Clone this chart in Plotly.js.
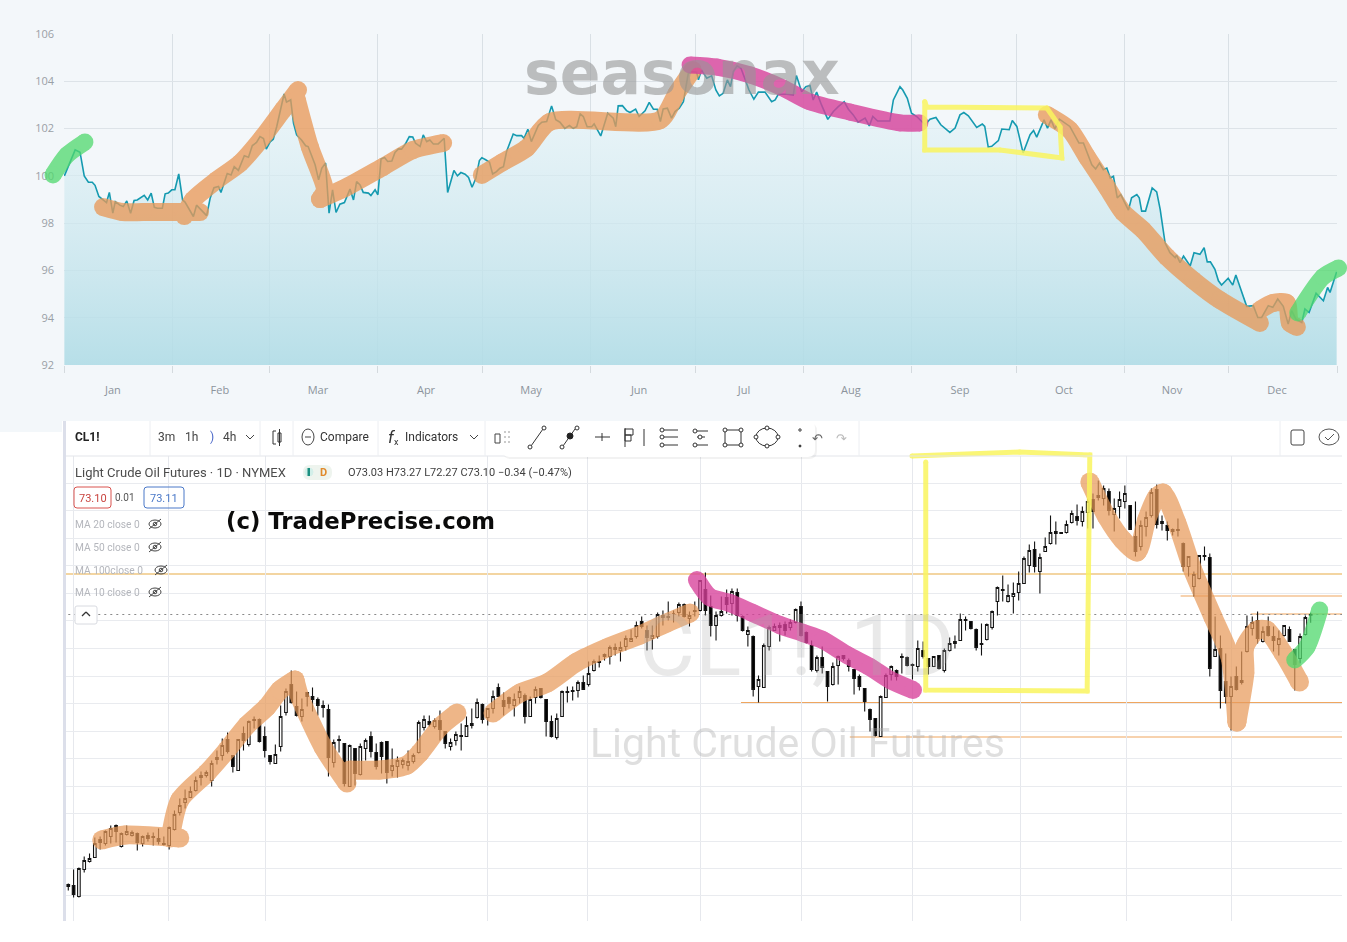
<!DOCTYPE html>
<html><head><meta charset="utf-8">
<script src="https://cdn.plot.ly/plotly-3.0.1.min.js"></script>
<style>html,body{margin:0;padding:0;background:#fff}#c{width:1347px;height:942px}</style></head>
<body><div id="c"></div>
<script>
// ---------- Seasonal chart (top) ----------
const monthNames=['Jan','Feb','Mar','Apr','May','Jun','Jul','Aug','Sep','Oct','Nov','Dec'];
const monthMid=[14,44.7,72.8,103.8,133.9,164.9,195,225.6,256.9,286.7,317.7,347.8];
const monthStart=[0,31,59,90,120,151,181,212,243,273,304,334,365];
const seasonTicks=[92,94,96,98,100,102,104,106];
const seasonDay=[0.1,3.2,4.6,5.8,7,8.1,8.9,10,12.2,13,14,14.7,16,17,18,19.1,20.1,21,23,24,25,25.9,26.8,28.2,29,29.9,30.9,31.8,32.9,34,34.7,37.1,38,40.9,41.9,43,44.3,45,46.8,47.9,48.8,50,51.7,52.9,54,55.2,56.2,57.2,58,59.1,60,61,63.1,63.8,65,65.8,66.7,68.1,69.3,70,72,73,73.9,75,76,77,78,79.1,80.4,82,83,83.9,84.9,85.8,87.3,88,89.2,90,90.9,91.9,92.8,94,94.9,95.9,96.8,98,99,100,100.8,102.1,103,104,104.9,105.9,107.3,109,110,
111.8,112.8,113.8,115,116,117,118.1,119.1,119.8,120.9,122,122.9,124,125,126,126.9,128.8,129.8,131.2,131.9,133,134,136,137,138.4,139.8,141,142.2,143.6,144.9,146,147,148,148.9,150,151.3,152,153.9,155.9,157.5,158.2,158.9,160.1,161.3,162.3,163.9,164.9,166.6,167.8,169,170.1,171,171.8,173,174.2,175.2,176.4,177.6,179,180,181.4,181.9,182.8,184.3,185.7,186.9,187.9,189,190.2,191.1,191.9,193,194.1,195.3,196.4,197.8,199.1,201,202.9,203.9,204.8,207.2,209.1,210,211.5,212.7,213.9,214.8,215.8,217.2,219,220.6,222,223.7,224.9,226.3,227.7,229.7,230.9,231.9,233.3,236.8,237.8,
239.7,240.5,241.8,243,244.5,246.9,248.3,250,251.4,254,255.5,256.9,258,259.3,261.7,263.3,264,265,266,267.9,268.9,271,271.9,273.2,275,277,278,278.9,281,282,283,284.1,285.4,287,288.4,291,292.3,294.7,295.8,296.9,298,299,300,300.9,302,303,305.2,306.1,307.6,308.3,309,310.1,312,313.3,314.3,315.7,317.1,318.6,319,320,321,322.9,324,325.7,326.9,327.8,328.7,330,331,331.9,333.8,335.1,336,339.1,341,342.3,343.4,345.3,346.6,348,349.6,351,352,353.2,354.9,355.8,357,359,361.1,362.3,363,364.9];
const seasonValue=[100,101.1,101,100,99.73,99.73,99.6,99.13,98.87,99.3,98.42,98.91,98.76,98.7,98.94,98.42,98.96,98.98,99.18,98.98,99.27,98.67,98.63,98.63,99.24,99.27,99.41,99.41,100.08,98.98,98.89,98.28,98.76,98.32,99.05,99.5,99.55,99.3,100.1,100.04,100.39,100.23,100.85,100.79,101.28,101.41,101.66,101.58,101.13,101.44,101.55,102.09,103.46,103.12,103.22,102.23,101.73,101.52,101.27,101.24,100.47,99.83,100.32,100.54,98.42,99.41,98.45,98.8,98.87,99.44,98.98,99.76,99.62,99.3,99.27,99.17,99.41,99.2,100.71,100.78,100.61,100.63,100.99,101.14,101.13,101.38,101.66,101.64,101.38,101.24,101.73,101.45,101.52,101.35,101.35,101.59,99.3,
100.23,100,100.14,100.07,99.93,99.52,99.9,100.65,100.77,100.68,100.58,100.08,100.18,100.32,100.39,101.03,101.77,101.7,101.7,101.59,101.97,101.45,102.13,102.27,102.3,102.96,102.37,102.27,102.01,102.13,102.01,102.08,102.62,102.51,102.08,102.08,102.2,101.69,102.65,102.44,102.08,102.96,102.97,102.76,102.68,102.82,102.51,102.75,103.11,102.82,102.82,102.3,102.83,102.86,102.44,102.72,102.86,103.14,104.34,104.41,104.38,104.06,104.48,104.13,104.23,103.63,103.38,103.49,104.06,103.77,104.41,104.65,104.55,104.08,103.63,103.24,103.54,103.54,103.14,103.21,103.45,103.45,103.42,104.24,103.56,103.77,103.82,103.21,103.54,103,102.39,102.72,102.93,103.14,102.82,102.58,102.27,102.44,102.11,102.51,102.32,102.32,103.21,
103.77,103.63,103.28,102.65,102.51,102.16,102.4,102.47,102.16,101.84,102.02,102.58,102.68,102.54,102.05,102.19,102.09,101.22,101.25,101.49,101.98,101.95,102.34,102.09,100.97,101.74,101.92,101.64,102.37,102.02,102.37,101.98,102.4,102.23,102.09,101.39,101.39,100.47,100.29,100.54,100.26,100.33,99.91,99.98,99.07,99.21,98.55,99.07,99.21,99.07,98.51,98.51,99.49,99.32,98.58,97.17,96.75,96.54,96.65,96.33,96.61,96.19,96.75,96.68,96.96,96.36,96.36,96.05,95.56,95.38,95.67,95.38,95.81,94.48,94.51,94.01,94.01,94.51,94.44,94.79,94.48,93.73,94.3,93.94,93.8,94.37,94.22,95.04,94.72,95.28,95.07,95.94];

// hand-drawn highlights on the seasonal chart
const topGreenAX=[-3.15,0.86,6], topGreenAY=[100.04,100.88,101.43];
const topOrangeAX=[11.2,16.9,22.7,34.1,39], topOrangeAY=[98.68,98.47,98.47,98.47,98.47];
const topOrangeBX=[34.5,37,43.9,50.5,57,62.8,67.1], topOrangeBY=[98.3,98.98,99.83,100.54,101.64,102.79,103.63];
const topOrangeB2X=[66.8,70.5,74.8,73.4], topOrangeB2Y=[103.2,101.22,99.4,99.02];
const topOrangeCX=[73.4,80.6,91.5,100,108.7], topOrangeCY=[99.02,99.49,100.38,101.09,101.39];
const topOrangeDX=[119.8,125.9,132.7,139.3,170.9,175.7,180.3], topOrangeDY=[100.04,100.59,101.18,102.28,102.36,103.5,104.48];
const topPinkX=[179.5,187.2,196.7,206.1,213.9,225.3,239.7,245.4], topPinkY=[104.69,104.6,104.27,103.72,103.13,102.7,102.24,102.24];
const topYellowX=[246.8,247.4,281.8,285.6,286.1,268.4,246.8,246.8], topYellowY=[103.13,102.91,102.87,102.07,100.76,101.09,101.09,103.13];
const topOrangeEX=[281.8,288.4,293.3,299,303.6,309.4,316.2,323.7,331.4,342.9], topOrangeEY=[102.58,101.94,100.8,99.53,98.47,97.71,96.57,95.6,94.75,93.78];
const topOrangeFX=[342.9,346.6,350.6,351.5,353.5], topOrangeFY=[94.33,94.62,94.62,93.78,93.61];
const topGreenBX=[353.8,361,365.5], topGreenBY=[94.2,95.72,96.1];

// ---------- Daily futures candles (bottom) ----------
const candleOpen=[45.9,46,44.9,47.6,48.4,48.8,50.6,50.2,50.9,52,49.9,51.1,51,51.2,50.2,51,50.9,50.7,50.2,50,51.6,53.3,54.3,54.8,55.5,56.8,57,56.5,58.8,59,60.6,59,57.5,61.2,60.1,62.5,62.6,60.9,59,58.2,59.9,63.3,66.1,63.9,62.9,65.3,64.9,64.6,64,63.6,58.3,60.5,60.2,55.9,59.7,57.1,59.7,60.9,59.3,60.3,60.4,57.5,57.9,
58.1,58,58.4,59.3,61.8,62.4,61.9,62.5,61.4,59.9,60.5,60.9,60.9,62,62.8,64.1,62.8,63.7,65.8,64.5,64.8,64,64.8,65,62.9,64.8,65.7,64.6,62.4,60.8,62.9,65.3,65.4,65.5,66.3,66.1,67.5,68.3,69.1,68.9,69.8,69.5,69.9,70.4,70.9,72.4,71.5,70.7,70.9,72.8,72.8,73.2,73.3,74.1,72.7,73.4,73.5,75.6,73.9,72,73,74.8,74.2,75.3,72.9,71.1,70.9,65.9,65.8,69.9,71.5,72,72.1,71.8,72.3,73.9,71.3,70,67.5,68.8,67.4,66.1,68,69,68.5,67.6,66.9,65.7,63.6,62.7,60.9,64.8,67.1,67.5,68.9,68.8,68,67.9,69.5,68.7,67.9,69,67.5,69.5,70.4,70.5,72.5,72.4,71.6,70.1,70.6,71.8,74.4,
75.6,74.4,74.9,75.3,76.2,78,79.6,77.4,79.4,80.2,81.2,81.2,81.3,82.3,82.9,82.4,83.3,84.6,85,84.7,85.4,83.1,83.9,84.4,84,80.9,79.9,81.9,83,85.6,82.2,82,81.4,81.6,80.2,77.9,75.9,76.7,78.9,78.8,68.9,69.7,66.4,64.9,66.9,66.3,69.4,71.7,72.5,70.4,71.9,70.9,70.1,71,71.6,69.6,68.7,71.1,73.03];
const candleHigh=[46.2,47.6,47.8,48.9,49.2,50.8,50.9,51.5,52,52.1,51.3,52,51.5,51.3,51,51.3,51.3,51.7,50.9,51.9,53.5,54.7,55.6,55.9,56.9,57.4,57.5,58.5,59.5,60.7,61.3,59,60.6,61.9,62.5,62.9,62.7,61.9,59,60.1,64,65.7,67.5,65.4,64.7,65.3,65.8,64.8,64.5,64.1,60.6,61,60.2,60.1,59.7,60.2,60.7,61.4,60.2,60.4,60.4,59.7,58.9,
58.7,59.5,59.2,62.5,63,63,62.7,63.5,61.4,60.7,61.4,62.2,62.9,63.7,64.7,64.2,63.7,65.5,66.2,65.3,64.9,65.2,65.9,65.2,64.9,65.9,65.7,64.6,63,63.2,65.5,65.9,65.9,66.5,67,68.4,68.6,69,69.2,70,70.2,70.4,71,71.6,72.4,72.9,72,72,73.3,73.5,74.4,73.5,74.3,74.2,73.4,74.4,76.5,77.3,75,73.4,74.9,75.6,75.7,75.7,73,71.9,71,67,70.2,72,72.2,72.3,72.4,72.6,73.7,74.4,71.4,70.5,69,69.9,67.4,68.3,69,69,68.7,67.6,67.1,65.7,63.7,62.7,65,67.2,68,67.6,69.2,68.9,68.2,70.5,70.4,68.7,68.9,69,69.7,70.8,71,73.2,72.9,72.4,71.7,72.2,72.2,73.5,75.9,
77,76.1,76.3,77.4,78.9,80.1,80.4,79.2,80.8,83,82.4,81.3,82.5,83.5,84.1,83.9,84.7,85.2,86.5,86,85.7,84.7,85.4,86,84,84.4,82.5,83.4,85.7,86.1,83,82.4,81.7,82.7,80.3,78.9,77.4,79,79.9,79.2,72.9,71,69.2,66.9,67.9,69.4,73,72.9,73.4,71.9,72.9,71.9,71.5,72,71.9,69.6,71.2,73,73.27];
const candleLow=[45.5,44.8,44.8,47.3,48.3,48.8,49.6,50,50.2,50.3,49.8,51,50.9,49.5,49.9,50.4,50,50.1,50,49.6,51.5,53,53.7,54.8,55.4,56,56.8,55.9,58.1,58.5,59.2,57.3,57.5,59.5,59.9,61.7,60.3,58.8,58.1,58.2,59.4,63,64.2,62.9,62.4,63.9,63.4,63,62.8,56.9,57.8,59.3,55.9,55.9,56,57,58.5,58.8,57.6,57.2,56.2,56.9,56.8,
57.7,57.5,58.2,59.2,61.5,61.9,61.7,60.5,59.7,59.5,60,59.5,60.9,61.7,62.7,62.2,62,63.2,64.9,63,63.7,62.9,64.2,62.2,62.9,64.2,64.7,60.9,60.8,60.6,62.9,64.3,64.5,64.8,65.6,65.9,67.4,67.8,68.5,68.1,69,68.4,69.5,70.4,70.7,71.7,69.5,69.6,70.7,72,72.5,72.3,72.9,72.8,71.9,72.9,73.4,73,70.9,70.5,72.9,73.2,73,72.4,71.4,69.9,64.9,64.3,65.8,69.5,71.5,70.4,71,71.5,72.2,70.9,70.2,67.4,67.3,67.2,64.4,66,66.1,68.5,67.4,65.1,65.5,63.4,61.4,60.9,60.9,64.8,66.5,66.5,67.2,67.9,66.6,67.4,68.7,67.1,67.9,67.6,67.3,69.4,69.7,70.5,71.5,71.6,69.5,69,70.5,71.6,73,
74.4,74.3,73.2,74.5,76.2,77.3,77.3,75.2,79.4,80.1,80.1,81.2,81.2,82.2,82,81.9,81.7,81.7,84.5,84,83,81.4,82.7,83.7,81.6,78.9,79.5,80.9,82.8,81.7,81.5,80.5,81,80.9,77.4,76.9,74.9,76.6,78.5,66.9,68.9,63.7,64.2,61.5,65.5,66.1,69.3,71,70.2,70.3,70.9,69.4,69,70.9,70.4,65.5,68.2,71,72.27];
const candleClose=[46.1,45.1,47.7,48.5,48.7,50.2,50.3,51.4,51.7,51.4,51.2,51.4,51.3,50.3,50.9,50.7,50.8,50.4,50.1,51.8,53.1,54,54.7,55.4,56.5,57,57.3,58.2,58.6,60,59.4,57.9,60.6,60.5,62.4,62.6,60.4,59.5,58.4,59.1,62.9,65.4,64.3,63,63.6,64.9,64.6,64,63.8,58.8,60.3,60.6,56.2,60,57.2,59.9,60.5,59.4,57.9,58.9,57.3,58,58.5,
58.5,58.4,59,62.3,62.6,62.1,62.5,61.6,60.2,60.3,61.1,61,62,62.2,64.3,62.6,63.7,64.9,64.9,63.9,64.2,64.6,65.4,62.9,64.6,65.6,64.8,62.4,60.9,62.7,65.4,65.4,65.5,66.3,65.6,67.2,68.4,68.4,68.9,69.8,69.6,69.8,70.7,70.7,72,71.9,70.8,71,73.1,73,72.9,73.2,74.1,72.9,73,73.5,76.5,73.5,72,73,73.4,74.1,75.4,73,71.5,71.5,65.6,66.6,70,71.8,71.9,71.8,71.5,72.3,73.6,71,70.3,67.6,68.8,67.8,65.9,67.9,68.9,68.7,67.9,66.7,65.9,64.4,62.6,61,64.9,67,67.9,66.9,68.8,68,68.1,69.7,68.9,67.9,68.9,67.7,69.5,70.2,70.2,72.6,72.6,71.7,69.8,70.2,72.1,73.4,75.8,
75.5,75,75.2,76.2,78.7,79.5,77.9,78.8,79.9,81.3,81.4,81.3,82.1,83.2,82.5,83.4,84.4,83.4,84.8,85.7,83.5,83.7,84.6,85.2,81.6,79.4,82,82.8,85.3,82.1,82.4,81.5,81.6,81.5,77.9,78.9,77.1,79,79,67.7,69.6,65.5,64.9,65.9,65.6,66.5,71.9,72.3,70.7,71.4,71,70.5,70.7,72,70.4,68.1,70.9,72.8,73.10];
const candleMonthLines=[0.94,18.8,37.2,78.9,97.8,119,138.1,159,179.3,199.3,219,239.9];
const candlePriceLines=[86.25,83.5,80.75,78,75.25,72.5,69.75,66.95,64.25,61.45,58.75,55.95,53.25,50.45,47.75,45.05];
const lastPrice=73.10;
const levelPrice=[77.15,74.95,64.3,60.85,73.15];
const levelStart=[-0.43,209.5,126.7,147.2,222.7];

// hand-drawn highlights on the candle chart
const botFlatX=[6.3,10.7,21], botFlatY=[50.55,51.05,50.75];
const botRiseX=[19.2,21,26.1,29.9,33.7,37.4,39.9,42.7], botRiseY=[50.75,54.55,57.25,59.55,62.05,63.85,65.55,66.55];
const botDropX=[42.7,43.6,48,52.5], botDropY=[66.55,64.85,59.85,56.25];
const botBaseX=[53,58.7,63.8,66.2,70,73.2], botBaseY=[57.55,57.55,58.05,59.25,61.85,63.25];
const botTrendX=[80,85.1,90.2,95.8,101.4,107.7,112.7,117.1], botTrendY=[63.25,65.25,66.25,68.35,69.75,71.05,72.25,73.25];
const botPinkX=[118.4,120.8,124.6,128.9,134,138.4,142.1,146.7,151,154.8,159.1], botPinkY=[76.55,74.85,74.25,73.25,72.05,71.25,70.55,69.05,67.85,66.55,65.55];
const botYellowX=[161.5,161.5,191.9,192.4,179.2,158.9], botYellowY=[88.35,65.55,65.45,89.05,89.35,88.95];
const botEndAX=[192.4,195.6,198.6,201.3,203.1,205,206.2,208.8,211.8,215.6,218.8,220.1], botEndAY=[86.35,82.85,80.55,79.35,82.55,84.85,85.25,82.25,77.55,72.85,68.85,62.35];
const botEndBX=[220.1,221.6,221.6,223.9,225.7,228.8,231.9], botEndBY=[62.35,67.25,69.85,71.55,71.55,69.25,66.35];
const botGreenX=[231,233.3,235.7], botGreenY=[68.55,69.85,73.55];

// ---------- helpers ----------
const W=1347,H=942,PX=x=>x/W,PY=y=>1-y/H;
const ORANGE='#e89a5a',PINK='#d8409a',GREEN='#4fd86c',YELLOW='#f9f55f';
const joined=(list)=>list.reduce((a,l,i)=>i?a.concat([null],l):a.concat(l),[]);
function stroke(xs,ys,color,op,w,sub,straight){
  const s=sub?String(sub+1):'';
  return {type:'scatter',mode:'lines+markers',x:xs,y:ys,xaxis:'x'+s,yaxis:'y'+s,cliponaxis:false,connectgaps:false,
    line:straight?{color:color,width:w,shape:'linear'}:{color:color,width:w,shape:'spline',smoothing:0.7},marker:{color:color,size:w,line:{width:0}},opacity:op,hoverinfo:'skip',showlegend:false};
}
const shapes=[];const anns=[];
const rect=(x0,y0,x1,y1,fill,line,lw,layer)=>shapes.push({type:'rect',xref:'paper',yref:'paper',x0:PX(x0),x1:PX(x1),y0:PY(y1),y1:PY(y0),fillcolor:fill||'rgba(0,0,0,0)',line:{color:line||'rgba(0,0,0,0)',width:lw||0},layer:layer||'above'});
const seg=(x0,y0,x1,y1,c,w)=>shapes.push({type:'line',xref:'paper',yref:'paper',x0:PX(x0),x1:PX(x1),y0:PY(y0),y1:PY(y1),line:{color:c,width:w||1},layer:'above'});
const circ=(cx,cy,r,c,fill,ry)=>shapes.push({type:'circle',xref:'paper',yref:'paper',x0:PX(cx-r),x1:PX(cx+r),y0:PY(cy+(ry||r)),y1:PY(cy-(ry||r)),fillcolor:fill||'rgba(0,0,0,0)',line:{color:c,width:1},layer:'above'});
const rr=(x0,y0,x1,y1,r,fill,line)=>{const X=PX,Y=PY;
  shapes.push({type:'path',xref:'paper',yref:'paper',layer:'above',fillcolor:fill||'rgba(0,0,0,0)',line:{color:line||'rgba(0,0,0,0)',width:line?1:0},
  path:`M${X(x0+r)} ${Y(y0)}L${X(x1-r)} ${Y(y0)}Q${X(x1)} ${Y(y0)} ${X(x1)} ${Y(y0+r)}L${X(x1)} ${Y(y1-r)}Q${X(x1)} ${Y(y1)} ${X(x1-r)} ${Y(y1)}L${X(x0+r)} ${Y(y1)}Q${X(x0)} ${Y(y1)} ${X(x0)} ${Y(y1-r)}L${X(x0)} ${Y(y0+r)}Q${X(x0)} ${Y(y0)} ${X(x0+r)} ${Y(y0)}Z`});};
const txt=(x,y,t,size,color,anchor,family)=>anns.push({xref:'paper',yref:'paper',x:PX(x),y:PY(y),text:t,showarrow:false,xanchor:anchor||'left',yanchor:'middle',align:'left',borderpad:0,
  font:{size:size,color:color,family:family||'Roboto, sans-serif'}});

// backgrounds
rect(0,0,W,432,'#f3f7fa',null,0,'below');
rect(62,421,W,456,'#ffffff',null,0,'below');
seg(66,456,1342,456,'#e3e5ea',1);
rect(63,421,66,921,'#dcdfea');
[150,260,293,378,485,859,1280].forEach(x=>seg(x,421,x,456,'#eceef2',1));

// watermarks
txt(682,73,'<b>seasonax</b>',60,'rgba(150,150,150,0.6)','center','DejaVu Sans, sans-serif');
txt(797,645,'CL1!, 1D',86,'rgba(170,170,170,0.26)','center','Liberation Sans Narrow, Roboto, sans-serif');
txt(797,743,'Light Crude Oil Futures',41,'rgba(170,170,170,0.38)','center','Liberation Sans Narrow, Roboto, sans-serif');

// top toolbar text
txt(74,437,'<b>CL1!</b>',12,'#222');
txt(157,437,'3m',12,'#444');txt(184,437,'1h',12,'#444');txt(209,437,')',12,'#4a67c8');txt(222,437,'4h',12,'#444');
seg(246,435,250,439,'#444',1);seg(250,439,254,435,'#444',1);
seg(273,431,273,444,'#333',1);seg(273,431,276,431,'#333',1);seg(273,444,276,444,'#333',1);rect(278,433,281,442,null,'#333',1);seg(279.5,429,279.5,446,'#333',1);
circ(308,437,6,'#444',null,8);seg(305,437,311,437,'#444',1);
txt(319,437,'Compare',12,'#333');
txt(387,437,'<i>f</i>',17,'#333');txt(393,442,'x',9,'#333');
txt(404,437,'Indicators',12,'#333');
seg(470,435,474,439,'#444',1);seg(474,439,478,435,'#444',1);
rect(495,434,500,443,null,'#444',1);

// floating drawing toolbar
rr(503,423,817,459,8,'rgba(0,0,0,0.05)');
rr(502,421,815,457,7,'#ffffff');
[505,509].forEach(x=>[432,437,442].forEach(y=>circ(x,y,0.6,'#bbb','#bbb')));
seg(531,446,543,429,'#333',1);circ(530,447,2,'#333','#fff');circ(544,428,2,'#333','#fff');
seg(563,446,575,429,'#333',1);circ(562,447,2,'#333','#fff');circ(577,428,2,'#333','#fff');circ(570,436,3,'#222','#222');
seg(595,437,610,437,'#333',1);seg(602,433,602,441,'#333',1);
seg(625,428,625,447,'#333',1);rect(625,429,633,435,null,'#333',1);rect(625,435,631,441,null,'#333',1);seg(644,429,644,446,'#333',1);
[430,437,445].forEach(y=>{seg(662,y,678,y,'#333',1);circ(662,y,2,'#333','#fff');});
[431,445].forEach(y=>{seg(694,y,708,y,'#333',1);circ(695,y,2,'#333','#fff');});seg(697,437,705,437,'#333',1);circ(700,437,2,'#333','#fff');
rect(725,430,741,445,null,'#333',1);[[725,430],[741,430],[725,445],[741,445]].forEach(p=>circ(p[0],p[1],2,'#333','#fff'));
circ(767,437,11,'#333',null,9);[[756,437],[778,437],[767,428],[767,446]].forEach(p=>circ(p[0],p[1],2,'#333','#fff'));
circ(800,430,1.2,'#333');circ(800,446,1,'#333','#333');
txt(817,438,'↶',13,'#666','center');txt(841,438,'↷',13,'#bbb','center');
rr(1291,430,1304,445,2,null,'#444');
circ(1329,437,10,'#555',null,8);seg(1325,437,1328,440,'#555',1);seg(1328,440,1334,434,'#555',1);

// legend
txt(74,472,'Light Crude Oil Futures · 1D · NYMEX',13,'#4c4c4c');
rr(303,465,332,480,7,'#eef4ee');circ(309,472,4,'#d3efe9','#d3efe9');rect(307.5,468,310,476,'#1c8f80');
txt(323,472,'<b>D</b>',11,'#e08a2c','center');
txt(347,472,'O73.03 H73.27 L72.27 C73.10 −0.34 (−0.47%)',11,'#404040');
rr(74,487,111,508,3,null,'#d9534f');txt(92.5,498,'73.10',11,'#c9443f','center');
txt(125,497.5,'0.01',10,'#555','center');
rr(144,487,184,508,3,null,'#4a78c8');txt(164,498,'73.11',11,'#4a78c8','center');
txt(225,521,'<b>(c) TradePrecise.com</b>',22.8,'#0a0a0a','left','DejaVu Sans, sans-serif');
[['MA 20 close 0',524,155],['MA 50 close 0',547,155],['MA 100close 0',570,161],['MA 10 close 0',592,155]].forEach(r=>{
  txt(74,r[1],r[0],10.2,'#b4b6bc');
  circ(r[2],r[1],6,'#444',null,4);circ(r[2],r[1],1.8,'#444');seg(r[2]-6,r[1]+5,r[2]+6,r[1]-5,'#444',1);
});
rr(75,606,97,624,2,'#fff','#d8dae0');seg(82,616,86,612,'#333',1.3);seg(86,612,90,616,'#333',1.3);

// horizontal levels and the last-price line on the candle panel
levelPrice.forEach((p,i)=>shapes.push({type:'line',xref:'x2',yref:'y2',x0:levelStart[i],x1:239.9,y0:p,y1:p,layer:'below',line:{color:i===0?'#e8ab45':'#efa65f',width:1.1}}));
shapes.push({type:'line',xref:'x2',yref:'y2',x0:0,x1:239.9,y0:lastPrice,y1:lastPrice,layer:'below',line:{color:'#8a8a8a',width:1.2,dash:'2px 4px'}});

const data=[
 {type:'scatter',mode:'lines',x:seasonDay,y:seasonValue,xaxis:'x',yaxis:'y',fill:'tozeroy',
  fillgradient:{type:'vertical',start:92,stop:106,colorscale:[[0,'rgba(176,220,230,0.9)'],[0.45,'rgba(205,232,239,0.7)'],[1,'rgba(240,248,251,0.5)']]},
  line:{color:'#159ab0',width:1.6},hoverinfo:'skip',showlegend:false},
 stroke(joined([topOrangeAX,topOrangeBX,topOrangeB2X,topOrangeCX,topOrangeDX,topOrangeEX,topOrangeFX]),joined([topOrangeAY,topOrangeBY,topOrangeB2Y,topOrangeCY,topOrangeDY,topOrangeEY,topOrangeFY]),ORANGE,.78,18),
 stroke(topPinkX,topPinkY,PINK,.8,17),
 stroke(topYellowX,topYellowY,YELLOW,.85,5,0,true),
 stroke(joined([topGreenAX,topGreenBX]),joined([topGreenAY,topGreenBY]),GREEN,.75,17,2),
 {type:'candlestick',x:candleClose.map((_,i)=>i),open:candleOpen,high:candleHigh,low:candleLow,close:candleClose,xaxis:'x2',yaxis:'y2',width:0.78,
  increasing:{line:{color:'#131313',width:1.1},fillcolor:'#ffffff'},decreasing:{line:{color:'#131313',width:1.1},fillcolor:'#000000'},
  whiskerwidth:0,hoverinfo:'skip',showlegend:false},
 stroke(joined([botFlatX,botRiseX,botDropX,botBaseX,botTrendX,botEndAX,botEndBX]),joined([botFlatY,botRiseY,botDropY,botBaseY,botTrendY,botEndAY,botEndBY]),ORANGE,.72,19,1),
 stroke(botPinkX,botPinkY,PINK,.78,18,1),
 stroke(botYellowX,botYellowY,YELLOW,.85,5,3,true),
 stroke(botGreenX,botGreenY,GREEN,.75,17,1)
];

const hidden={visible:false,showgrid:false,zeroline:false};
const layout={
 width:W,height:H,margin:{l:0,r:0,t:0,b:0},paper_bgcolor:'#ffffff',plot_bgcolor:'rgba(0,0,0,0)',showlegend:false,
 shapes:shapes,annotations:anns,
 xaxis:{domain:[PX(64),PX(1337)],range:[0,365],anchor:'y',tickmode:'array',tickvals:monthMid,ticktext:monthNames,ticks:'',showgrid:false,zeroline:false,
   ticklabelstandoff:17,tickfont:{size:11,color:'#8c949c',family:'Open Sans, sans-serif'},showline:false,
   minor:{tickmode:'array',tickvals:monthStart,ticks:'outside',ticklen:7,tickcolor:'#d4dade',tickwidth:1,showgrid:true,gridcolor:'#d9e0e5',gridwidth:1}},
 yaxis:{domain:[PY(365),PY(34)],range:[92,106],anchor:'x',tickmode:'array',tickvals:seasonTicks,ticks:'',gridcolor:'#dde3e8',gridwidth:1,zeroline:false,showline:false,
   ticklabelstandoff:9,tickfont:{size:11,color:'#9aa0a6',family:'Open Sans, sans-serif'}},
 xaxis2:{domain:[PX(66),PX(1342)],range:[-0.43,239.9],anchor:'y2',tickmode:'array',tickvals:candleMonthLines,showticklabels:false,ticks:'',gridcolor:'#e6e8ed',gridwidth:1,zeroline:false,showline:false,rangeslider:{visible:false}},
 yaxis2:{domain:[PY(921),PY(456)],range:[42.45,88.95],anchor:'x2',tickmode:'array',tickvals:candlePriceLines,showticklabels:false,ticks:'',gridcolor:'#e9ebef',gridwidth:1,zeroline:false,showline:false},
 // invisible twins with extra room, so that highlights can run past the plot edges
 xaxis3:Object.assign({domain:[PX(30),1],range:[-9.75,367.91],anchor:'y3'},hidden),
 yaxis3:Object.assign({domain:[PY(365),PY(34)],range:[92,106],anchor:'x3'},hidden),
 xaxis4:Object.assign({domain:[PX(66),PX(1342)],range:[-0.43,239.9],anchor:'y4'},hidden),
 yaxis4:Object.assign({domain:[PY(921),PY(440)],range:[42.45,90.55],anchor:'x4'},hidden)
};
Plotly.newPlot('c',data,layout,{staticPlot:true,displayModeBar:false});
</script></body></html>
